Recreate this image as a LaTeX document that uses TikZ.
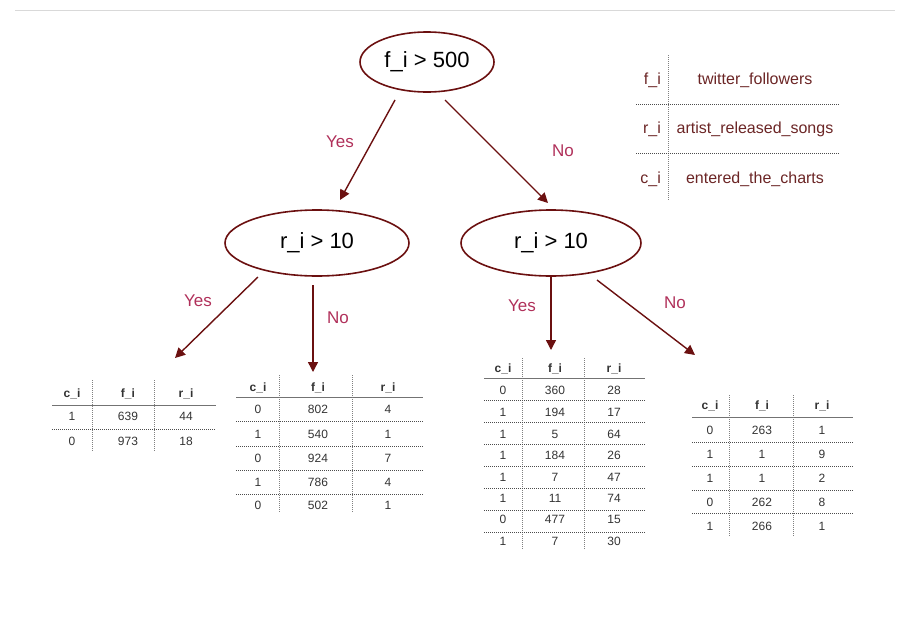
\documentclass[tikz,border=0pt]{standalone}
\usepackage{fontspec}
\setmainfont{Liberation Sans}
\usetikzlibrary{arrows.meta,shapes.geometric}
\definecolor{dred}{HTML}{6B1010}
\definecolor{lab}{HTML}{B0305A}
\definecolor{ltxt}{HTML}{6B2525}
\tikzset{
 dec/.style={ellipse,draw=dred,line width=1.6pt,text=black,font=\fontsize{22}{24}\selectfont},
 arr/.style={draw=dred,line width=1.4pt,-{Triangle[length=10pt,width=10pt]}},
 yn/.style={text=lab,font=\fontsize{17}{19}\selectfont},
 cell/.style={text=black!80,font=\fontsize{12}{13}\selectfont,inner sep=0pt},
 head/.style={cell,font=\fontsize{12}{13}\selectfont\bfseries},
 sep/.style={dash pattern=on 1pt off 1pt,draw=black!70,line width=0.5pt},
 vsep/.style={dash pattern=on 1pt off 1pt,draw=black!50,line width=0.5pt},
 rul/.style={draw=black!55,line width=0.9pt},
 leg/.style={text=ltxt,font=\fontsize{16}{18}\selectfont,inner sep=0pt},
}
\begin{document}
\begin{tikzpicture}[x=1pt,y=-1pt]
\useasboundingbox (0,0) rectangle (905,616);
\draw[black!15,line width=0.8pt] (15,10) -- (895,10);
% ellipses
\node[dec,minimum width=134pt,minimum height=60pt] (top) at (427,62) {f\_i > 500};
\node[dec,minimum width=184pt,minimum height=66pt] (lft) at (317,243) {r\_i > 10};
\node[dec,minimum width=180pt,minimum height=66pt] (rgt) at (551,243) {r\_i > 10};
\coordinate (t1) at (395,100); \coordinate (t1e) at (340,200);
\coordinate (t2) at (445,100); \coordinate (t2e) at (548,203);
\draw[arr] (t1) -- (t1e); \draw[arr] (t2) -- (t2e);
\node[yn] (y1) at (340,142) {Yes}; \node[yn] (n1) at (563,151) {No};
\coordinate (l1) at (258,277); \coordinate (l1e) at (175,358);
\coordinate (l2) at (313,285); \coordinate (l2e) at (313,372);
\draw[arr] (l1) -- (l1e); \draw[arr] (l2) -- (l2e);
\node[yn] (y2) at (198,301) {Yes}; \node[yn] (n2) at (338,318) {No};
\coordinate (r1) at (551,277); \coordinate (r1e) at (551,350);
\coordinate (r2) at (597,280); \coordinate (r2e) at (695,355);
\draw[arr] (r1) -- (r1e); \draw[arr] (r2) -- (r2e);
\node[yn] (y3) at (522,306) {Yes}; \node[yn] (n3) at (675,303) {No};
% legend
\draw[vsep] (668,55) -- (668,200);
\draw[sep] (636,104) -- (840,104); \draw[sep] (636,153) -- (840,153);
\node[leg,anchor=east] (lg1) at (661,80) {f\_i};
\node[leg,anchor=east] (lg2) at (661,129) {r\_i};
\node[leg,anchor=east] (lg3) at (661,179) {c\_i};
\node[leg] (ld1) at (755,80) {twitter\_followers};
\node[leg] (ld2) at (755,129) {artist\_released\_songs};
\node[leg] (ld3) at (755,179) {entered\_the\_charts};
% table 1
\draw[vsep] (92,380) -- (92,452); \draw[vsep] (154,380) -- (154,452);
\draw[rul] (52,405) -- (216,405); \draw[sep] (52,429) -- (216,429);
\foreach \a/\b/\c/\y in {c\_i/f\_i/r\_i/394}{\node[head] at (72,\y) {\a};\node[head] at (128,\y) {\b};\node[head] at (186,\y) {\c};}
\foreach \a/\b/\c/\y in {1/639/44/416,0/973/18/441}{\node[cell] at (72,\y) {\a};\node[cell] at (128,\y) {\b};\node[cell] at (186,\y) {\c};}
% table 2
\draw[vsep] (279,375) -- (279,512); \draw[vsep] (352,375) -- (352,512);
\draw[rul] (236,397) -- (423,397);
\foreach \y in {421.5,446,470,494} \draw[sep] (236,\y) -- (423,\y);
\foreach \a/\b/\c/\y in {c\_i/f\_i/r\_i/388}{\node[head] at (258,\y) {\a};\node[head] at (318,\y) {\b};\node[head] at (388,\y) {\c};}
\foreach \a/\b/\c/\y in {0/802/4/409,1/540/1/434,0/924/7/458,1/786/4/482,0/502/1/505}{\node[cell] at (258,\y) {\a};\node[cell] at (318,\y) {\b};\node[cell] at (388,\y) {\c};}
% table 3
\draw[vsep] (522,358) -- (522,550); \draw[vsep] (584,358) -- (584,550);
\draw[rul] (484,378) -- (645,378);
\foreach \y in {400,422,444,466,488,510,532} \draw[sep] (484,\y) -- (645,\y);
\foreach \a/\b/\c/\y in {c\_i/f\_i/r\_i/369}{\node[head] at (503,\y) {\a};\node[head] at (555,\y) {\b};\node[head] at (614,\y) {\c};}
\foreach \a/\b/\c/\y in {0/360/28/390,1/194/17/412,1/5/64/434,1/184/26/455,1/7/47/477,1/11/74/498,0/477/15/519,1/7/30/541}{\node[cell] at (503,\y) {\a};\node[cell] at (555,\y) {\b};\node[cell] at (614,\y) {\c};}
% table 4
\draw[vsep] (729,395) -- (729,537); \draw[vsep] (793,395) -- (793,537);
\draw[rul] (692,417) -- (853,417);
\foreach \y in {442,466,490,513} \draw[sep] (692,\y) -- (853,\y);
\foreach \a/\b/\c/\y in {c\_i/f\_i/r\_i/406}{\node[head] at (710,\y) {\a};\node[head] at (762,\y) {\b};\node[head] at (822,\y) {\c};}
\foreach \a/\b/\c/\y in {0/263/1/430,1/1/9/454,1/1/2/478,0/262/8/502,1/266/1/526}{\node[cell] at (710,\y) {\a};\node[cell] at (762,\y) {\b};\node[cell] at (822,\y) {\c};}
\end{tikzpicture}
\end{document}
